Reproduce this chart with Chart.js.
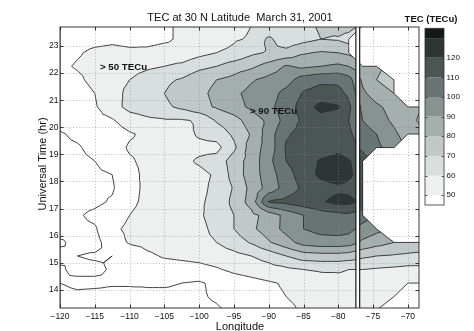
<!DOCTYPE html>
<html>
<head>
<meta charset="utf-8">
<script src="https://cdn.jsdelivr.net/npm/chart.js@4.4.1/dist/chart.umd.min.js"></script>
<style>
  html, body { margin: 0; padding: 0; background: #fff; }
  #wrap { width: 474px; height: 331px; }
</style>
</head>
<body>
<div id="wrap"><canvas id="tec" width="474" height="331"></canvas></div>
<script>
// TEC grid, 30 N: longitude columns, one row per half hour of UT (top row first)
var lons = [-120, -117.5, -115, -112.5, -110, -107.5, -105, -102.5, -100, -97.5, -95, -92.5, -90, -87.5, -85, -82.5, -80, -78.5, -76.5, -74.5, -72, -70, -67.5];
var hours = [23.75, 23.25, 22.75, 22.25, 21.75, 21.25, 20.75, 20.25, 19.75, 19.25, 18.75, 18.25, 17.75, 17.25, 16.75, 16.25, 15.75, 15.25, 14.75, 14.25, 13.75, 13.25];

// null = no receiver coverage
var ut2375 = [43, 44, 45, 46, 46, 47, 49, 51, 54, 55, 57, 60, 61, 63, 68, 71, 74, 74, 68, 64, 62, 62, 60];
var ut2325 = [44, 46, 47, 48, 47, 46, 48, 52, 53, 56, 59, 61, 72, 64, 67, 70, 69, 66, null, null, null, null, null];
var ut2275 = [46, 49, 52, 53, 52, 53, 55, 54, 57, 60, 62, 68, 71, 73, 79, 81, 80, 78, null, null, null, null, null];
var ut2225 = [48, 51, 53, 55, 56, 58, 60, 62, 67, 70, 75, 78, 84, 91, 88, 90, 92, 90, 85, 82, null, null, null];
var ut2175 = [45, 48, 53, 57, 60, 65, 68, 71, 77, 80, 83, 89, 93, 96, 105, 108, 108, 104, 88, 80, 75, null, null];
var ut2125 = [43, 45, 50, 57, 62, 66, 70, 75, 78, 82, 88, 93, 96, 103, 111, 114, 113, 108, 92, 85, 80, null, null];
var ut2075 = [45, 46, 49, 56, 63, 65, 68, 72, 77, 81, 86, 92, 98, 104, 115, 123, 121, 112, 98, 92, 86, 82, 80];
var ut2025 = [44, 46, 47, 49, 55, 58, 59, 59, 61, 71, 76, 85, 92, 104, 112, 116, 114, 110, 100, 95, 88, 82, 78];
var ut1975 = [39, 42, 44, 45, 49, 52, 55, 57, 61, 64, 72, 81, 95, 109, 113, 114, 116, 112, 104, 100, 92, 85, 80];
var ut1925 = [38, 39, 43, 46, 51, 52, 56, 57, 58, 57, 68, 85, 94, 111, 113, 115, 117, 114, 108, 102, 96, null, null];
var ut1875 = [37, 38, 40, 45, 49, 52, 55, 58, 61, 64, 75, 84, 97, 110, 116, 121, 124, 121, 114, null, null, null, null];
var ut1825 = [36, 37, 38, 40, 46, 53, 55, 57, 58, 61, 74, 85, 95, 106, 115, 122, 126, 122, 115, null, null, null, null];
var ut1775 = [36, 36, 38, 39, 47, 52, 54, 57, 58, 62, 71, 83, 94, 104, 112, 116, 118, 117, 113, null, null, null, null];
var ut1725 = [37, 37, 38, 41, 48, 52, 54, 56, 59, 62, 73, 84, 111, 113, 116, 119, 123, 123, 118, null, null, null, null];
var ut1675 = [38, 39, 42, 45, 50, 53, 55, 58, 59, 63, 70, 77, 84, 93, 100, 105, 107, 108, 104, null, null, null, null];
var ut1625 = [37, 38, 39, 48, 52, 53, 55, 57, 58, 62, 70, 78, 85, 93, 100, 103, 104, 103, 97, 93, null, null, null];
var ut1575 = [41, 38, 37, 45, 51, 53, 55, 56, 58, 60, 65, 71, 79, 86, 94, 96, 96, 95, 88, 84, 80, 78, 76];
var ut1525 = [38, 40, 41, 40, 42, 48, 51, 52, 53, 55, 57, 60, 64, 70, 75, 76, 76, 75, 72, 70, 69, 68, 67];
var ut1475 = [41, 38, 38, 41, 43, 44, 45, 46, 47, 49, 52, 54, 56, 58, 60, 61, 61, 60, 60, 59, 58, 57, 57];
var ut1425 = [40, 42, 42, 41, 41, 41, 41, 40, 39, 42, 45, 47, 49, 51, 54, 56, 57, 57, 56, 55, 54, 53, 53];
var ut1375 = [37, 38, 37, 37, 37, 38, 38, 38, 39, 41, 44, 46, 48, 50, 52, 54, 55, 54, 53, 52, 51, null, null];
var ut1325 = [36, 37, 36, 36, 36, 37, 37, 38, 38, 39, 41, 44, 46, 48, 51, 53, 54, 53, 52, 51, null, null, null];

var tec = [ut2375, ut2325, ut2275, ut2225, ut2175, ut2125, ut2075, ut2025, ut1975, ut1925, ut1875,
           ut1825, ut1775, ut1725, ut1675, ut1625, ut1575, ut1525, ut1475, ut1425, ut1375, ut1325];

// contour levels and the fill of each band (first entry = below the first level)
var levels = [30, 40, 50, 60, 70, 80, 90, 100, 110, 120, 130];
var fills = ['#ffffff', '#ffffff', '#ffffff', '#edf0ef', '#d9dfde', '#c0c9c7', '#a4afae', '#869391',
             '#677473', '#4a5554', '#2d3535', '#151919'];

var lonTicks = [-120, -115, -110, -105, -100, -95, -90, -85, -80, -75, -70];
var hourTicks = [14, 15, 16, 17, 18, 19, 20, 21, 22, 23];
var barTicks = [50, 60, 70, 80, 90, 100, 110, 120];
var barRange = [45, 135];
var meridian = -77.2;

var FONT = '"Liberation Sans", Arial, Helvetica, sans-serif';

function gridPoints(xs, ys) {
  return hours.map(function(h, j) {
    return lons.map(function(lon, i) {
      var v = tec[j][i];
      if (v === null) return null;
      return { x: xs.getPixelForValue(lon), y: ys.getPixelForValue(h), v: v };
    });
  });
}

// split every cell into triangles so the field is linear on each piece
function triangles(pts) {
  var out = [];
  for (var j = 0; j < pts.length - 1; j++) {
    for (var i = 0; i < pts[j].length - 1; i++) {
      var a = pts[j][i], b = pts[j][i + 1], c = pts[j + 1][i + 1], d = pts[j + 1][i];
      if (a && b && c && d) {
        var m = { x: (a.x + b.x + c.x + d.x) / 4, y: (a.y + b.y + c.y + d.y) / 4, v: (a.v + b.v + c.v + d.v) / 4 };
        out.push([a, b, m], [b, c, m], [c, d, m], [d, a, m]);
      } else {
        var q = [a, b, c, d].filter(Boolean);
        if (q.length === 3) out.push(q);
      }
    }
  }
  return out;
}

function clipAbove(poly, L) {
  var out = [];
  for (var i = 0; i < poly.length; i++) {
    var a = poly[i], b = poly[(i + 1) % poly.length];
    var ain = a.v >= L, bin = b.v >= L;
    if (ain) out.push(a);
    if (ain !== bin) {
      var f = (L - a.v) / (b.v - a.v);
      out.push({ x: a.x + f * (b.x - a.x), y: a.y + f * (b.y - a.y), v: L });
    }
  }
  return out;
}

function addPoly(path, poly) {
  if (poly.length < 3) return;
  path.moveTo(poly[0].x, poly[0].y);
  for (var i = 1; i < poly.length; i++) path.lineTo(poly[i].x, poly[i].y);
  path.closePath();
}

var contourPlugin = {
  id: 'contour',
  beforeDatasetsDraw: function(chart) {
    var ctx = chart.ctx, area = chart.chartArea;
    var tris = triangles(gridPoints(chart.scales.x, chart.scales.y));

    ctx.save();
    ctx.beginPath();
    ctx.rect(area.left, area.top, area.right - area.left, area.bottom - area.top);
    ctx.clip();

    // filled bands, painted from the lowest level up
    for (var k = 0; k <= levels.length; k++) {
      var path = new Path2D();
      var L = k === 0 ? -Infinity : levels[k - 1] + 1e-3;
      tris.forEach(function(t) {
        addPoly(path, clipAbove(t, L));
      });
      ctx.fillStyle = fills[k];
      ctx.fill(path);
    }

    // isolines
    var lines = new Path2D();
    levels.forEach(function(level) {
      var L = level + 1e-3;
      tris.forEach(function(t) {
        var cut = [];
        for (var e = 0; e < 3; e++) {
          var p = t[e], q = t[(e + 1) % 3];
          if ((p.v < L) !== (q.v < L)) {
            var f = (L - p.v) / (q.v - p.v);
            cut.push([p.x + f * (q.x - p.x), p.y + f * (q.y - p.y)]);
          }
        }
        if (cut.length === 2) {
          lines.moveTo(cut[0][0], cut[0][1]);
          lines.lineTo(cut[1][0], cut[1][1]);
        }
      });
    });

    // outline of the area without data
    var seen = {};
    function key(p) { return Math.round(p.x * 100) + ',' + Math.round(p.y * 100); }
    tris.forEach(function(t) {
      for (var e = 0; e < 3; e++) {
        var p = t[e], q = t[(e + 1) % 3];
        var ka = key(p), kb = key(q);
        var k2 = ka < kb ? ka + '|' + kb : kb + '|' + ka;
        if (!seen[k2]) seen[k2] = { p: p, q: q, n: 0 };
        seen[k2].n++;
      }
    });
    Object.keys(seen).forEach(function(k2) {
      var s = seen[k2];
      if (s.n === 1) {
        lines.moveTo(s.p.x, s.p.y);
        lines.lineTo(s.q.x, s.q.y);
      }
    });

    ctx.strokeStyle = '#2e2e2e';
    ctx.lineWidth = 0.9;
    ctx.lineJoin = 'round';
    ctx.stroke(lines);
    ctx.restore();
  },

  afterDatasetsDraw: function(chart) {
    var ctx = chart.ctx, area = chart.chartArea;
    var xs = chart.scales.x, ys = chart.scales.y;

    ctx.save();
    // dotted grid
    ctx.strokeStyle = '#8a8a8a';
    ctx.lineWidth = 0.6;
    ctx.setLineDash([1, 2.2]);
    ctx.beginPath();
    lonTicks.forEach(function(v) {
      var x = Math.round(xs.getPixelForValue(v)) + 0.5;
      ctx.moveTo(x, area.top); ctx.lineTo(x, area.bottom);
    });
    hourTicks.forEach(function(v) {
      var y = Math.round(ys.getPixelForValue(v)) + 0.5;
      ctx.moveTo(area.left, y); ctx.lineTo(area.right, y);
    });
    ctx.stroke();
    ctx.setLineDash([]);

    // meridian marker
    var mx = xs.getPixelForValue(meridian);
    ctx.beginPath();
    ctx.moveTo(mx, area.top); ctx.lineTo(mx, area.bottom);
    ctx.strokeStyle = '#1a1a1a'; ctx.lineWidth = 5; ctx.stroke();
    ctx.strokeStyle = '#ffffff'; ctx.lineWidth = 2.6; ctx.stroke();

    // frame with inward ticks on all sides
    ctx.strokeStyle = '#222';
    ctx.lineWidth = 0.9;
    ctx.strokeRect(area.left, area.top, area.right - area.left, area.bottom - area.top);
    ctx.beginPath();
    lonTicks.forEach(function(v) {
      var x = Math.round(xs.getPixelForValue(v)) + 0.5;
      ctx.moveTo(x, area.bottom); ctx.lineTo(x, area.bottom - 3.5);
      ctx.moveTo(x, area.top); ctx.lineTo(x, area.top + 3.5);
    });
    hourTicks.forEach(function(v) {
      var y = Math.round(ys.getPixelForValue(v)) + 0.5;
      ctx.moveTo(area.left, y); ctx.lineTo(area.left + 3.5, y);
      ctx.moveTo(area.right, y); ctx.lineTo(area.right - 3.5, y);
    });
    ctx.stroke();

    // in-plot labels
    ctx.fillStyle = '#111';
    ctx.font = 'bold 9.7px ' + FONT;
    ctx.textAlign = 'left';
    ctx.textBaseline = 'alphabetic';
    ctx.fillText('> 50 TECu', 100, 70);
    ctx.fillText('> 90 TECu', 250, 114);

    // titles
    ctx.font = '11px ' + FONT;
    ctx.textAlign = 'center';
    ctx.fillText('TEC at 30 N Latitude  March 31, 2001', 240, 20.5);
    ctx.fillText('Longitude', 240, 329.5);
    ctx.save();
    ctx.translate(45.5, 164);
    ctx.rotate(-Math.PI / 2);
    ctx.fillText('Universal Time (hr)', 0, 0);
    ctx.restore();

    // colour bar
    var cbL = 425, cbR = 444, cbT = 28.3, cbB = 205;
    function cbY(v) { return cbB - (v - barRange[0]) / (barRange[1] - barRange[0]) * (cbB - cbT); }
    for (var k = 0; k <= levels.length; k++) {
      var lo = k === 0 ? barRange[0] : Math.max(barRange[0], levels[k - 1]);
      var hi = k === levels.length ? barRange[1] : Math.min(barRange[1], levels[k]);
      if (hi <= lo) continue;
      ctx.fillStyle = fills[k];
      ctx.fillRect(cbL, cbY(hi), cbR - cbL, cbY(lo) - cbY(hi));
    }
    ctx.strokeStyle = '#333';
    ctx.lineWidth = 0.8;
    ctx.strokeRect(cbL, cbT, cbR - cbL, cbB - cbT);
    ctx.beginPath();
    barTicks.forEach(function(v) {
      var y = Math.round(cbY(v)) + 0.5;
      ctx.moveTo(cbR, y); ctx.lineTo(cbR - 2.5, y);
      ctx.moveTo(cbL, y); ctx.lineTo(cbL + 2.5, y);
    });
    ctx.stroke();
    ctx.fillStyle = '#111';
    ctx.font = '8px ' + FONT;
    ctx.textAlign = 'left';
    ctx.textBaseline = 'middle';
    barTicks.forEach(function(v) { ctx.fillText(String(v), cbR + 2.5, cbY(v)); });
    ctx.font = 'bold 9.5px ' + FONT;
    ctx.textAlign = 'center';
    ctx.textBaseline = 'alphabetic';
    ctx.fillText('TEC (TECu)', 431, 21.5);
    ctx.restore();
  }
};

var gridData = [];
hours.forEach(function(h, j) {
  lons.forEach(function(lon, i) {
    if (tec[j][i] !== null) gridData.push({ x: lon, y: h });
  });
});

function minusLabel(v) { return v < 0 ? '\u2212' + Math.abs(v) : String(v); }

new Chart(document.getElementById('tec'), {
  type: 'scatter',
  data: {
    datasets: [{ data: gridData, pointRadius: 0, pointHoverRadius: 0, showLine: false }]
  },
  options: {
    responsive: false,
    animation: false,
    devicePixelRatio: 1,
    layout: { padding: { top: 27, right: 55, left: 0, bottom: 0 } },
    plugins: { legend: { display: false }, tooltip: { enabled: false } },
    events: [],
    scales: {
      x: {
        type: 'linear',
        min: -120,
        max: -68.4,
        afterFit: function(scale) { scale.height = 23; },
        afterBuildTicks: function(scale) { scale.ticks = lonTicks.map(function(v) { return { value: v }; }); },
        grid: { display: false, drawTicks: false },
        border: { display: false },
        ticks: { callback: minusLabel, autoSkip: false, maxRotation: 0, padding: 4, color: '#111',
                 font: { family: FONT, size: 8.5 } }
      },
      y: {
        type: 'linear',
        min: 13.33,
        max: 23.7,
        afterFit: function(scale) { scale.width = 60; },
        afterBuildTicks: function(scale) { scale.ticks = hourTicks.map(function(v) { return { value: v }; }); },
        grid: { display: false, drawTicks: false },
        border: { display: false },
        ticks: { autoSkip: false, padding: 1.5, color: '#111', font: { family: FONT, size: 8.5 } }
      }
    }
  },
  plugins: [contourPlugin]
});
</script>
</body>
</html>
